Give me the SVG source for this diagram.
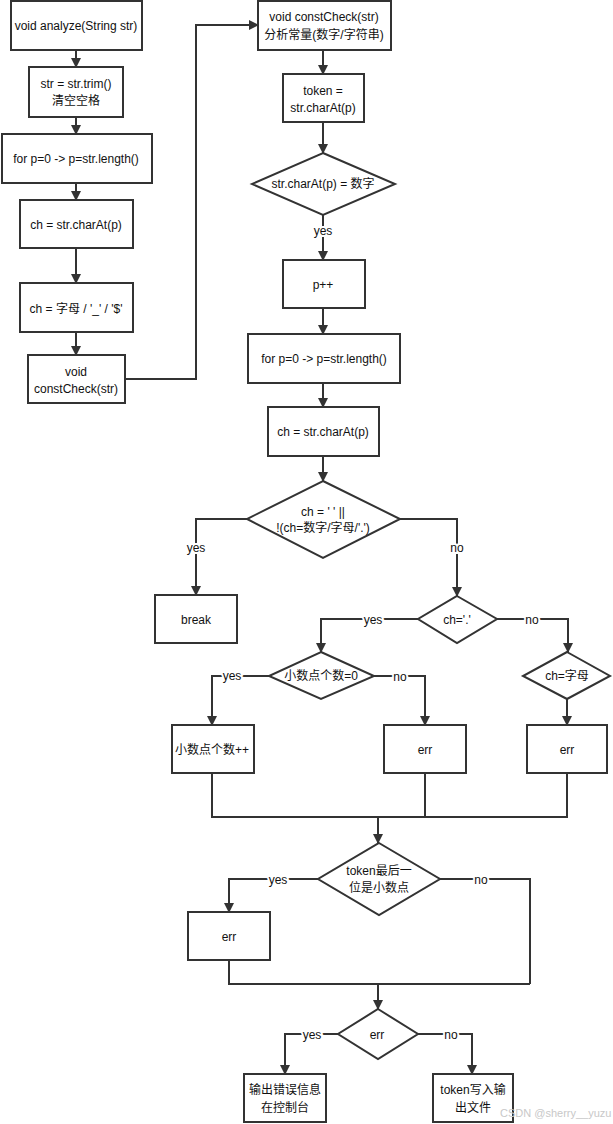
<svg xmlns="http://www.w3.org/2000/svg" width="613" height="1124" viewBox="0 0 613 1124">
<defs>
<style>
.n{fill:#fff;stroke:#333;stroke-width:2}
.t{font-family:"Liberation Sans","Noto Sans CJK SC",sans-serif;font-size:12px;fill:#111;text-anchor:middle;dominant-baseline:central}
.c{fill:none;stroke:#333;stroke-width:2}
.a{marker-end:url(#ah)}
.l{font-family:"Liberation Sans","Noto Sans CJK SC",sans-serif;font-size:12px;fill:#111;text-anchor:middle;dominant-baseline:central;stroke:#fff;stroke-width:4;paint-order:stroke}
.w{font-family:"Liberation Sans",sans-serif;font-size:11px;fill:#c8c8c8}
</style>
<marker id="ah" markerUnits="userSpaceOnUse" markerWidth="10" markerHeight="10" refX="9" refY="5" orient="auto">
<path d="M0,0 L10,5 L0,10 z" fill="#333"/>
</marker>
</defs>
<rect width="613" height="1124" fill="#fff"/>
<g id="connectors">
<path class="c a" d="M76,50 V67"/>
<path class="c a" d="M76,117 V134"/>
<path class="c a" d="M76,183 V200"/>
<path class="c a" d="M76,248 V283"/>
<path class="c a" d="M76,332 V355"/>
<path class="c a" d="M125,379 H196 V25 H258"/>
<path class="c a" d="M323,50 V74"/>
<path class="c a" d="M323,122 V153"/>
<path class="c a" d="M323,215 V260"/>
<path class="c a" d="M323,308 V334"/>
<path class="c a" d="M323,383 V407"/>
<path class="c a" d="M323,456 V481"/>
<path class="c a" d="M247,519 H196 V595"/>
<path class="c a" d="M400,519 H457 V596"/>
<path class="c a" d="M418,619 H321 V652"/>
<path class="c a" d="M497,619 H568 V652"/>
<path class="c a" d="M269,676 H212 V725"/>
<path class="c a" d="M374,676 H425 V725"/>
<path class="c a" d="M567,699 V725"/>
<path class="c" d="M212,773 V817 H567 V773"/>
<path class="c" d="M425,773 V817"/>
<path class="c a" d="M378,817 V843"/>
<path class="c a" d="M318,879 H229 V912"/>
<path class="c" d="M440,879 H530 V984"/>
<path class="c" d="M229,960 V984 H530"/>
<path class="c a" d="M378,984 V1009"/>
<path class="c a" d="M338,1034 H285 V1074"/>
<path class="c a" d="M418,1034 H472 V1074"/>
<text class="l" x="323" y="231">yes</text>
<text class="l" x="196" y="548">yes</text>
<text class="l" x="457" y="548">no</text>
<text class="l" x="373" y="620">yes</text>
<text class="l" x="532" y="620">no</text>
<text class="l" x="232" y="676">yes</text>
<text class="l" x="400" y="677">no</text>
<text class="l" x="278" y="880">yes</text>
<text class="l" x="481" y="880">no</text>
<text class="l" x="312" y="1035">yes</text>
<text class="l" x="451" y="1035">no</text>
</g>
<g id="n1"><rect class="n" x="11" y="1" width="131" height="49"/><text class="t" x="76" y="26">void analyze(String str)</text></g>
<g id="n2"><rect class="n" x="29" y="67" width="94" height="50"/><text class="t" x="76" y="84">str = str.trim()</text><text class="t" x="76" y="101">清空空格</text></g>
<g id="n3"><rect class="n" x="2" y="134" width="150" height="49"/><text class="t" x="76" y="159">for p=0  -&gt; p=str.length()</text></g>
<g id="n4"><rect class="n" x="20" y="200" width="113" height="48"/><text class="t" x="76" y="225">ch = str.charAt(p)</text></g>
<g id="n5"><rect class="n" x="20" y="283" width="113" height="49"/><text class="t" x="76" y="309">ch = 字母 / '_'  / '$'</text></g>
<g id="n6"><rect class="n" x="28" y="355" width="97" height="48"/><text class="t" x="76" y="372">void</text><text class="t" x="76" y="389">constCheck(str)</text></g>
<g id="n7"><rect class="n" x="258" y="1" width="133" height="49"/><text class="t" x="324" y="17">void constCheck(str)</text><text class="t" x="324" y="35">分析常量(数字/字符串)</text></g>
<g id="n8"><rect class="n" x="283" y="74" width="81" height="48"/><text class="t" x="323" y="91">token =</text><text class="t" x="323" y="108">str.charAt(p)</text></g>
<g id="n9"><polygon class="n" points="323,153 395,184 323,215 252,184"/><text class="t" x="323" y="184">str.charAt(p) = 数字</text></g>
<g id="n10"><rect class="n" x="283" y="260" width="82" height="48"/><text class="t" x="323" y="285">p++</text></g>
<g id="n11"><rect class="n" x="248" y="334" width="152" height="49"/><text class="t" x="324" y="359">for p=0 -&gt; p=str.length()</text></g>
<g id="n12"><rect class="n" x="268" y="407" width="111" height="49"/><text class="t" x="323" y="432">ch = str.charAt(p)</text></g>
<g id="n13"><polygon class="n" points="323,481 400,519 323,558 247,519"/><text class="t" x="323" y="512">ch = ' ' ||</text><text class="t" x="323" y="528">!(ch=数字/字母/'.')</text></g>
<g id="n14"><rect class="n" x="155" y="595" width="82" height="48"/><text class="t" x="196" y="620">break</text></g>
<g id="n15"><polygon class="n" points="457,596 497,619 457,643 418,619"/><text class="t" x="457" y="620">ch='.'</text></g>
<g id="n16"><polygon class="n" points="321,652 374,676 321,699 269,676"/><text class="t" x="321" y="676">小数点个数=0</text></g>
<g id="n17"><polygon class="n" points="567,652 610,676 567,699 523,676"/><text class="t" x="567" y="676">ch=字母</text></g>
<g id="n18"><rect class="n" x="172" y="725" width="82" height="48"/><text class="t" x="212" y="750">小数点个数++</text></g>
<g id="n19"><rect class="n" x="384" y="725" width="82" height="48"/><text class="t" x="425" y="750">err</text></g>
<g id="n20"><rect class="n" x="527" y="725" width="80" height="48"/><text class="t" x="567" y="750">err</text></g>
<g id="n21"><polygon class="n" points="379,843 440,879 379,915 318,879"/><text class="t" x="379" y="871">token最后一</text><text class="t" x="379" y="888">位是小数点</text></g>
<g id="n22"><rect class="n" x="188" y="912" width="82" height="48"/><text class="t" x="229" y="937">err</text></g>
<g id="n23"><polygon class="n" points="378,1009 418,1034 378,1059 338,1034"/><text class="t" x="377" y="1035">err</text></g>
<g id="n24"><rect class="n" x="244" y="1074" width="82" height="48"/><text class="t" x="285" y="1090">输出错误信息</text><text class="t" x="285" y="1108">在控制台</text></g>
<g id="n25"><rect class="n" x="433" y="1074" width="80" height="48"/><text class="t" x="473" y="1090">token写入输</text><text class="t" x="473" y="1108">出文件</text></g>
<text class="w" x="500" y="1117">CSDN @sherry__yuzu</text>
</svg>
